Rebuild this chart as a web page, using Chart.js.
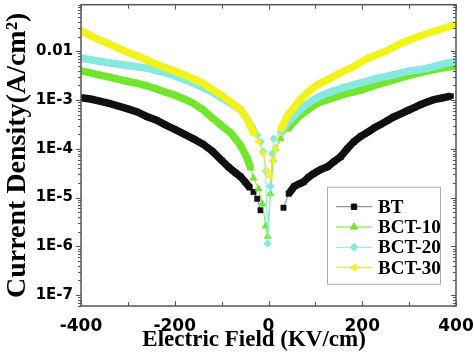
<!DOCTYPE html>
<html>
<head>
<meta charset="utf-8">
<script src="https://cdn.jsdelivr.net/npm/chart.js@4.4.1/dist/chart.umd.min.js"></script>
<style>
html,body{margin:0;padding:0;background:#fff;}
canvas{display:block;}
</style>
</head>
<body>
<canvas id="c" width="474" height="356"></canvas>
<script>
// ---------- data ----------
const seriesNames = ['BT', 'BCT-10', 'BCT-20', 'BCT-30'];

const xBT = [-400,-380,-360,-340,-320,-300,-280,-260,-240,-220,-200,-180,-160,-140,-120,-100,-85,-70,-60,-50,-40,-32,-24,-17,
             32,43,55,65,75,85,96,110,126,140,154,168,182,197,212,226,240,254,267,282,297,311,325,340,353,370,389];
const yBT = [1.12e-3,1.05e-3,9.5e-4,8.5e-4,7.5e-4,6.6e-4,5.7e-4,4.6e-4,3.9e-4,3.1e-4,2.5e-4,2.0e-4,1.6e-4,1.25e-4,9e-5,5.8e-5,4.2e-5,3.2e-5,2.7e-5,2.1e-5,1.6e-5,1.3e-5,9.5e-6,5.5e-6,
             6.2e-6,1.2e-5,1.7e-5,1.9e-5,2.1e-5,2.6e-5,3.1e-5,3.7e-5,4.3e-5,5.5e-5,6.9e-5,1.0e-4,1.4e-4,1.8e-4,2.2e-4,2.7e-4,3.2e-4,3.8e-4,4.5e-4,5.2e-4,6.1e-4,7.0e-4,8.1e-4,9.2e-4,1.02e-3,1.1e-3,1.2e-3];

const xB10 = [-400,-380,-360,-340,-320,-300,-280,-260,-240,-220,-200,-180,-160,-140,-120,-100,-80,-60,-45,-38,-32,-21,-13,-6,-2,
              4,10,15,26,41,55,68,82,96,110,126,160,197,230,267,300,340,370,400];
const yB10 = [3.95e-3,3.6e-3,3.25e-3,2.95e-3,2.65e-3,2.4e-3,2.2e-3,1.96e-3,1.7e-3,1.45e-3,1.25e-3,1.05e-3,8.5e-4,6.4e-4,4.3e-4,3.0e-4,2.1e-4,1.2e-4,6.3e-5,4.0e-5,2.5e-5,1.5e-5,7.4e-6,2.6e-6,1.6e-6,
              1.2e-5,6e-5,1.0e-4,1.6e-4,2.5e-4,3.7e-4,4.9e-4,6.2e-4,7.7e-4,9e-4,1.02e-3,1.3e-3,1.6e-3,2.05e-3,2.6e-3,3.2e-3,3.95e-3,4.5e-3,5.0e-3];

const xB20 = [-400,-380,-360,-340,-320,-300,-280,-260,-240,-220,-200,-180,-160,-140,-120,-100,-80,-60,-45,-32,-24,-17,-11,-6,-2,
              4,8,11,26,41,55,68,82,96,110,126,160,197,230,267,300,340,370,400];
const yB20 = [7.2e-3,6.7e-3,6.2e-3,5.8e-3,5.4e-3,5.1e-3,4.8e-3,4.5e-3,4.0e-3,3.6e-3,3.1e-3,2.65e-3,2.2e-3,1.8e-3,1.45e-3,1.1e-3,8.5e-4,6.4e-4,4.0e-4,2.5e-4,1.9e-4,1.4e-4,8.7e-5,3.5e-5,1.15e-6,
              1.7e-5,8e-5,1.6e-4,2.2e-4,3.5e-4,4.8e-4,6.4e-4,8.2e-4,1.02e-3,1.2e-3,1.4e-3,1.8e-3,2.25e-3,2.75e-3,3.3e-3,3.9e-3,4.5e-3,5.4e-3,6.3e-3];

const xB30 = [-400,-380,-360,-340,-320,-300,-280,-260,-240,-220,-200,-180,-160,-140,-120,-100,-80,-60,-45,-38,-30,-21,-11,-4,
              4,10,15,26,41,55,68,82,96,110,126,150,175,212,250,282,320,360,400];
const yB30 = [2.65e-2,2.1e-2,1.7e-2,1.4e-2,1.15e-2,9.5e-3,8e-3,6.6e-3,5.5e-3,4.6e-3,3.9e-3,3.3e-3,2.7e-3,2.2e-3,1.65e-3,1.25e-3,9e-4,6.4e-4,4e-4,2.8e-4,2.0e-4,1.4e-4,8e-5,3.5e-5,
              2.7e-5,6e-5,1e-4,2.5e-4,4.9e-4,7.2e-4,1.02e-3,1.4e-3,1.8e-3,2.2e-3,2.6e-3,3.5e-3,4.5e-3,7.2e-3,1.0e-2,1.45e-2,2.0e-2,2.7e-2,3.5e-2];

const xTickValues = [-400, -200, 0, 200, 400];
const xMinorStep = 100;
const yTickValues = [1e-7, 1e-6, 1e-5, 1e-4, 1e-3, 1e-2];
const yTickLabels = ['1E-7', '1E-6', '1E-5', '1E-4', '1E-3', '0.01'];
const xTitle = 'Electric Field (KV/cm)';
const yTitle = 'Current Density(A/cm\u00B2)';

// ---------- build ----------
function pts(xs, ys) { return xs.map((x, i) => ({ x: x, y: ys[i] })); }

const colors = ['#111111', '#72e62c', '#86e9df', '#f2f21c'];
const thinColors = ['#7a7aa8', '#72e62c', '#86e9df', '#e6e632'];
const styles = ['rect', 'triangle', 'rectRot', 'triangle'];
const rotations = [0, 0, 0, -90];
const radii = [3.8, 4.2, 4.0, 4.2];
const xs = [xBT, xB10, xB20, xB30];
const ys = [yBT, yB10, yB20, yB30];
const thresholds = [40, 35, 25, 25];

function thick(ctx, i) {
  const a = ctx.p0.parsed.x, b = ctx.p1.parsed.x;
  return Math.abs(a) >= thresholds[i] && Math.abs(b) >= thresholds[i] && a * b > 0;
}
function segColor(ctx, i) {
  if (i === 0 && ctx.p0.parsed.x * ctx.p1.parsed.x < 0) return 'rgba(0,0,0,0)';
  return thick(ctx, i) ? colors[i] : thinColors[i];
}

const datasets = seriesNames.map((name, i) => ({
  label: name,
  data: pts(xs[i], ys[i]),
  borderColor: thinColors[i],
  backgroundColor: colors[i],
  borderWidth: 1,
  pointStyle: styles[i],
  pointRotation: rotations[i],
  pointRadius: radii[i],
  pointBackgroundColor: colors[i],
  pointBorderColor: colors[i],
  pointBorderWidth: 0.5,
  order: 4 - i,
  segment: {
    borderWidth: ctx => thick(ctx, i) ? 7.5 : 1,
    borderColor: ctx => segColor(ctx, i)
  }
}));

const frameAndTicks = {
  id: 'frameAndTicks',
  afterDatasetsDraw(chart) {
    const { ctx, chartArea: a, scales } = chart;
    const sx = scales.x, sy = scales.y;
    ctx.save();
    ctx.strokeStyle = '#555';
    ctx.lineWidth = 1.5;
    ctx.strokeRect(a.left, a.top, a.right - a.left, a.bottom - a.top);
    ctx.lineWidth = 1;
    ctx.beginPath();
    for (let v = sx.min; v <= sx.max; v += xMinorStep) {
      const px = Math.round(sx.getPixelForValue(v)) + 0.5;
      const len = (v % 200 === 0) ? 5 : 4;
      ctx.moveTo(px, a.bottom); ctx.lineTo(px, a.bottom - len);
      ctx.moveTo(px, a.top); ctx.lineTo(px, a.top + len);
    }
    for (let e = -8; e <= -1; e++) {
      for (let m = 1; m <= 9; m++) {
        const v = m * Math.pow(10, e);
        if (v < sy.min || v > sy.max) continue;
        const py = Math.round(sy.getPixelForValue(v)) + 0.5;
        const len = m === 1 ? 5 : 3;
        ctx.moveTo(a.left, py); ctx.lineTo(a.left - len, py);
        ctx.moveTo(a.right, py); ctx.lineTo(a.right - len, py);
      }
    }
    ctx.stroke();
    ctx.restore();
  },
  afterDraw(chart) {
    const { ctx, chartArea: a } = chart;
    ctx.save();
    const bx = a.right - 129, by = a.top + 182, bw = 113, bh = 97;
    ctx.fillStyle = '#fff';
    ctx.fillRect(bx, by, bw, bh);
    ctx.strokeStyle = '#aaa';
    ctx.lineWidth = 1;
    ctx.strokeRect(bx + 0.5, by + 0.5, bw, bh);
    chart.data.datasets.forEach((ds, i) => {
      const y = by + 20 + i * 20.3;
      ctx.strokeStyle = i === 0 ? '#777' : thinColors[i];
      ctx.lineWidth = 1;
      ctx.beginPath();
      ctx.moveTo(bx + 9, y); ctx.lineTo(bx + 45, y);
      ctx.stroke();
      ctx.fillStyle = colors[i];
      ctx.strokeStyle = colors[i];
      Chart.helpers.drawPoint(ctx, { pointStyle: styles[i], rotation: rotations[i], radius: radii[i], borderWidth: 0.5 }, bx + 27, y);
      ctx.fillStyle = '#000';
      ctx.font = 'bold 19px "Liberation Serif"';
      ctx.textBaseline = 'middle';
      ctx.textAlign = 'left';
      ctx.fillText(ds.label, bx + 51, y + 1);
    });
    ctx.restore();
  }
};

function noPad(s) { s.paddingTop = 0; s.paddingBottom = 0; s.paddingLeft = 0; s.paddingRight = 0; }

new Chart(document.getElementById('c'), {
  type: 'line',
  data: { datasets: datasets },
  options: {
    responsive: false,
    animation: false,
    devicePixelRatio: 1,
    layout: { padding: { top: 1, right: 18, bottom: 0, left: 0 } },
    plugins: { legend: { display: false }, tooltip: { enabled: false } },
    scales: {
      x: {
        type: 'linear',
        min: -400, max: 400,
        afterBuildTicks: s => { s.ticks = xTickValues.map(v => ({ value: v })); },
        afterFit: s => { s.height = 50; noPad(s); },
        grid: { display: false, drawTicks: false },
        border: { display: false },
        ticks: { color: '#000', padding: 10, font: { family: '"DejaVu Sans"', weight: 'bold', size: 17 }, maxRotation: 0, callback: v => String(v) },
        title: { display: true, text: xTitle + '     ', color: '#000', padding: { top: 0, bottom: 2 }, font: { family: '"Liberation Serif"', weight: 'bold', size: 23 } }
      },
      y: {
        type: 'logarithmic',
        min: 6e-8, max: 0.09,
        afterBuildTicks: s => { s.ticks = yTickValues.map(v => ({ value: v })); },
        afterFit: s => { s.width = 81; noPad(s); },
        grid: { display: false, drawTicks: false },
        border: { display: false },
        ticks: { color: '#000', padding: 8, font: { family: '"DejaVu Sans"', weight: 'bold', size: 15 }, callback: (v, i) => yTickLabels[i] },
        title: { display: true, text: yTitle, color: '#000', padding: { top: 1, bottom: 0 }, font: { family: '"Liberation Serif"', weight: 'bold', size: 28 } }
      }
    }
  },
  plugins: [frameAndTicks]
});
</script>
</body>
</html>
